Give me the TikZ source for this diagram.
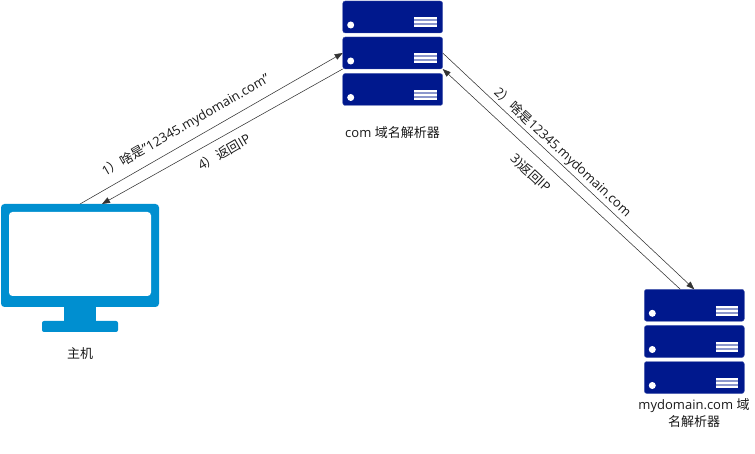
\documentclass[tikz,border=0pt]{standalone}
\usepackage{fontspec}
\setmainfont{Open Sans}
\newfontfamily\cjk{Noto Sans CJK SC}
\usetikzlibrary{arrows.meta,calc}
\definecolor{serverblue}{HTML}{00188D}
\definecolor{hostblue}{HTML}{008FD0}
\tikzset{
  unit/.style={fill=serverblue, draw=serverblue!70!white, line width=0.4pt, rounded corners=2.5pt,
    minimum width=100pt, minimum height=32pt, inner sep=0pt, outer sep=0pt},
  dotlamp/.style={fill=white, circle, minimum size=7pt, inner sep=0pt},
  link/.style={draw=black!80, line width=0.55pt, -{Triangle[length=8pt,width=6pt]}},
  caption/.style={font=\fontsize{13}{17}\selectfont, align=center, text=black!90},
}
\newcommand{\serverunit}[2]{%
  \node[unit] (#1) at (#2) {};
  \node[dotlamp] (#1dot) at ($(#1.south west)+(8,-8)$) {};
  \fill[serverblue!45!white] ($(#1.south east)+(-28.5,-5.5)$) rectangle ($(#1.south east)+(-6,-15.7)$);
  \foreach \off in {6.6,10.6,14.6} {
    \draw[white, line width=2pt] ($(#1.south east)+(-28.5,-\off)$) -- ($(#1.south east)+(-6,-\off)$);
  }
}
\begin{document}
\begin{tikzpicture}[x=1pt, y=-1pt]
  \useasboundingbox (0,0) rectangle (755,454);
  \serverunit{comtop}{392.7,17}
  \serverunit{commid}{392.7,53}
  \serverunit{combot}{392.7,89.5}
  \node[caption] (comlabel) at (392.5,132.5) {com {\cjk 域名解析器}};
  \serverunit{domtop}{694.3,305.3}
  \serverunit{dommid}{694.3,341.5}
  \serverunit{dombot}{694.3,377.5}
  \node[caption] (domlabel) at (694,413.5) {mydomain.com {\cjk 域}\\{\cjk 名解析器}};
  \node[fill=hostblue, rounded corners=3.5pt, minimum width=158pt, minimum height=103pt, inner sep=0pt, outer sep=0pt] (host) at (80,255.5) {};
  \node[fill=white, rounded corners=3.5pt, minimum width=142pt, minimum height=84pt, inner sep=0pt, outer sep=0pt] (screen) at (80,254) {};
  \node[fill=hostblue, minimum width=32pt, minimum height=16pt, inner sep=0pt, outer sep=0pt] (stand) at (80,314.5) {};
  \node[fill=hostblue, rounded corners=2pt, minimum width=76pt, minimum height=11pt, inner sep=0pt, outer sep=0pt] (foot) at (80,326.5) {};
  \node[caption] (hostlabel) at (80,354) {\cjk 主机};
  \draw[link] (host.north) -- (commid.west);
  \draw[link] (commid.south west) -- ($(host.north)+(22,0)$);
  \draw[link] (commid.east) -- (domtop.north);
  \draw[link] ($(domtop.north)+(-14,0)$) -- (commid.south east);
  \node[caption, rotate=30] (ask1) at (186,125.5) {1{\cjk ）啥是}"12345.mydomain.com"};
  \node[caption, rotate=30] (back4) at (224,152) {4{\cjk ）返回}IP};
  \node[caption, rotate=-43] (ask2) at (562.5,152.5) {2{\cjk ）啥是}12345.mydomain.com};
  \node[caption, rotate=-43] (back3) at (530.5,173) {3){\cjk 返回}IP};
\end{tikzpicture}
\end{document}
